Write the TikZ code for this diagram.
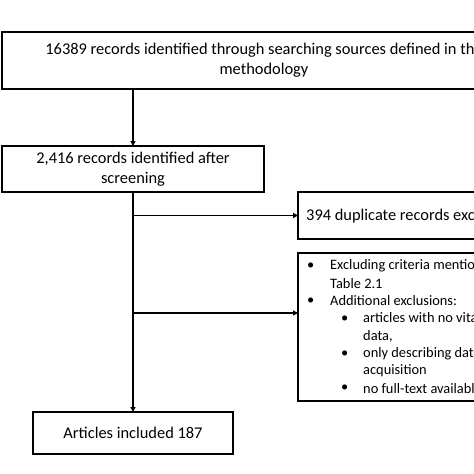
\documentclass[tikz,border=0pt]{standalone}
\usepackage{fontspec}
\setmainfont{Carlito}
\usetikzlibrary{arrows.meta}
\tikzset{
  box/.style={draw=black, line width=2pt, fill=white, inner sep=0pt, outer sep=0pt},
  bigtext/.style={font=\fontsize{16.4}{20}\selectfont},
  smalltext/.style={font=\fontsize{14.4}{17.5}\selectfont, anchor=west, inner sep=0pt},
  conn/.style={line width=1.6pt, -{Triangle[length=5pt,width=5pt]}}
}
\begin{document}
\begin{tikzpicture}[x=1pt,y=-1pt]
\useasboundingbox (0,0) rectangle (474,474);
\fill[white] (0,0) rectangle (474,474);
\begin{scope}
\clip (0,0) rectangle (474,474);
% boxes
\node[box, minimum width=524pt, minimum height=57pt, bigtext, align=center] (top) at (264,60.5)
  {16389 records identified through searching sources defined in the\\methodology};
\node[box, minimum width=262pt, minimum height=46pt, bigtext, align=center] (scr) at (133,169)
  {2,416 records identified after\\screening};
\node[box, minimum width=250pt, minimum height=47pt] (dup) at (423,215.5) {};
\node[bigtext, anchor=west, inner sep=0pt] (duptext) at (306,216) {394 duplicate records excluded};
\node[box, minimum width=250pt, minimum height=148pt] (exc) at (423,327) {};
\node[box, minimum width=200pt, minimum height=42pt, bigtext] (inc) at (133,433) {Articles included 187};
% exclusion list
\node[smalltext] (b1) at (307,266) {•};
\node[smalltext] (t1) at (330,266) {Excluding criteria mentioned in};
\node[smalltext] (t1b) at (330,283.5) {Table 2.1};
\node[smalltext] (b2) at (307,301) {•};
\node[smalltext] (t2) at (330,301) {Additional exclusions:};
\node[smalltext] (s1) at (341,319) {•};
\node[smalltext] (u1) at (363,319) {articles with no vital sign};
\node[smalltext] (u1b) at (363,336.5) {data,};
\node[smalltext] (s2) at (341,354) {•};
\node[smalltext] (u2) at (363,354) {only describing data};
\node[smalltext] (u2b) at (363,371) {acquisition};
\node[smalltext] (s3) at (341,388.5) {•};
\node[smalltext] (u3) at (363,388.5) {no full-text available};
% connectors
\coordinate (j0) at (scr.north |- top.south);
\coordinate (j2) at (133,313);
\draw[conn] (j0) -- (scr.north);
\draw[conn] (scr.south) -- (inc.north);
\draw[conn] (dup.west -| scr.south) -- (dup.west);
\draw[conn] (j2) -- (j2 -| exc.west);
\end{scope}
\end{tikzpicture}
\end{document}
